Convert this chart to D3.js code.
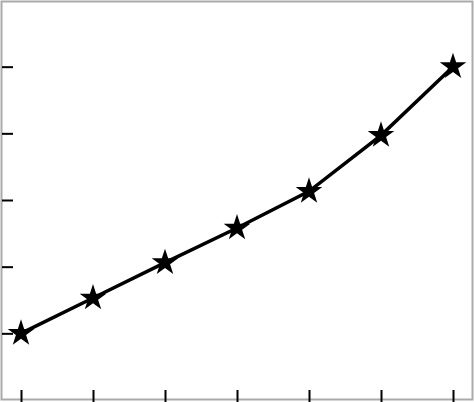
<!DOCTYPE html><html><head><script src="https://cdn.jsdelivr.net/npm/d3@7"></script>
<style>body{margin:0;background:#fff}</style></head><body><svg width="474" height="402"></svg><script>
const xs=[0,1,2,3,4,5,6];
const ys=[1.0,1.53,2.06,2.58,3.13,3.97,5.0];
const yTicks=[1,2,3,4,5];
const svg=d3.select("svg");
const x=d3.scaleLinear().domain([0,6]).range([21,453]);
const y=d3.scaleLinear().domain([0,6]).range([400,0]);
svg.append("rect").attr("x",1.5).attr("y",1.5).attr("width",471).attr("height",398).attr("fill","none").attr("stroke","#aaa").attr("stroke-width",2);
svg.append("g").attr("transform","translate(2,0)").call(d3.axisLeft(y).tickValues(yTicks).tickSize(-11).tickFormat("")).call(g=>{g.select(".domain").remove();g.selectAll("line").attr("stroke","#000").attr("stroke-width",2);});
svg.append("g").attr("transform","translate(0,402)").call(d3.axisBottom(x).tickValues(xs).tickSize(-12).tickFormat("")).call(g=>{g.select(".domain").remove();g.selectAll("line").attr("stroke","#000").attr("stroke-width",2);});
svg.append("path").datum(xs.map((v,i)=>[v,ys[i]])).attr("d",d3.line().x(d=>x(d[0])).y(d=>y(d[1]))).attr("fill","none").attr("stroke","#000").attr("stroke-width",3.5);
svg.selectAll(".s").data(xs).join("path").attr("d",d3.symbol(d3.symbolStar,220)).attr("transform",(d,i)=>`translate(${x(d)},${y(ys[i])})`).attr("fill","#000");
</script></body></html>
